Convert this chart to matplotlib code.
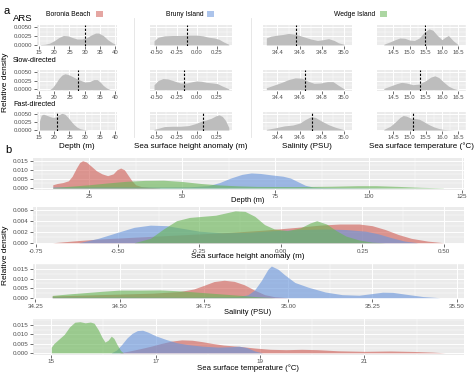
import matplotlib
matplotlib.use("Agg")
import matplotlib.pyplot as plt
from matplotlib.patches import Rectangle
from matplotlib.lines import Line2D

plt.rcParams['font.family'] = ['Liberation Sans', 'DejaVu Sans']

# ---------------- data: panel a (behaviour-specific densities) ----------------
depth_ars_x = [15.5, 17, 18.5, 20, 21.5, 23, 24.5, 26, 27.5, 29, 30.5, 32, 33.5, 34.5, 36, 37.5, 39, 39.8]
depth_ars_y = [0.0001, 0.0002, 0.0005, 0.0012, 0.0021, 0.0027, 0.0026, 0.0021, 0.0017, 0.0017, 0.0020, 0.0028, 0.0034, 0.0034, 0.0027, 0.0015, 0.0006, 0.0003]
depth_slow_x = [18.6, 19.5, 20.5, 21.5, 22.5, 23.5, 24.5, 25.5, 27, 28.5, 30, 31.5, 33, 34, 35, 36, 37, 38.2]
depth_slow_y = [0.0, 0.0006, 0.0018, 0.0032, 0.0042, 0.0046, 0.0044, 0.0040, 0.0033, 0.0027, 0.0022, 0.0023, 0.0029, 0.0029, 0.0022, 0.0012, 0.0005, 0.0]
depth_fast_x = [15.2, 15.8, 16.5, 17.5, 18.5, 19.5, 20.5, 21.5, 22.5, 23.5, 24.5, 25.5, 26.5, 27.5, 28.5, 29.5, 31]
depth_fast_y = [0.0028, 0.0047, 0.0050, 0.0047, 0.0043, 0.0040, 0.0041, 0.0048, 0.0053, 0.0050, 0.0040, 0.0028, 0.0017, 0.0009, 0.0004, 0.0002, 0.0]

ssha_ars_x = [-0.53, -0.48, -0.40, -0.30, -0.20, -0.10, 0.00, 0.08, 0.15, 0.22, 0.28, 0.34, 0.40]
ssha_ars_y = [0.0012, 0.0022, 0.0026, 0.0027, 0.0027, 0.0028, 0.0028, 0.0026, 0.0022, 0.0020, 0.0016, 0.0008, 0.0002]
ssha_slow_x = [-0.53, -0.48, -0.42, -0.36, -0.28, -0.20, -0.12, -0.05, 0.00, 0.06, 0.12, 0.20, 0.26, 0.32, 0.40]
ssha_slow_y = [0.0014, 0.0026, 0.0032, 0.0031, 0.0025, 0.0019, 0.0019, 0.0023, 0.0025, 0.0024, 0.0021, 0.0019, 0.0017, 0.0010, 0.0002]
ssha_fast_x = [-0.53, -0.47, -0.40, -0.30, -0.20, -0.10, -0.02, 0.05, 0.12, 0.18, 0.24, 0.28, 0.32, 0.36, 0.40]
ssha_fast_y = [0.0002, 0.0006, 0.0011, 0.0012, 0.0012, 0.0014, 0.0020, 0.0027, 0.0032, 0.0037, 0.0045, 0.0048, 0.0043, 0.0030, 0.0008]

sal_ars_x = [34.30, 34.34, 34.40, 34.45, 34.50, 34.55, 34.60, 34.65, 34.70, 34.76, 34.81, 34.86, 34.91, 34.95, 35.0]
sal_ars_y = [0.0020, 0.0025, 0.0028, 0.0030, 0.0033, 0.0031, 0.0027, 0.0022, 0.0017, 0.0013, 0.0015, 0.0018, 0.0013, 0.0006, 0.0002]
sal_slow_x = [34.30, 34.37, 34.44, 34.50, 34.56, 34.62, 34.67, 34.73, 34.79, 34.85, 34.90, 34.95, 35.0]
sal_slow_y = [0.0005, 0.0013, 0.0021, 0.0029, 0.0034, 0.0033, 0.0025, 0.0018, 0.0019, 0.0023, 0.0023, 0.0012, 0.0002]
sal_fast_x = [34.30, 34.38, 34.46, 34.54, 34.60, 34.65, 34.70, 34.74, 34.80, 34.86, 34.92, 34.97, 35.0]
sal_fast_y = [0.0002, 0.0007, 0.0013, 0.0016, 0.0022, 0.0033, 0.0042, 0.0040, 0.0028, 0.0017, 0.0009, 0.0004, 0.0001]

sst_ars_x = [14.2, 14.4, 14.55, 14.7, 14.85, 15.0, 15.15, 15.3, 15.45, 15.6, 15.72, 15.85, 16.0, 16.1, 16.2, 16.35, 16.5]
sst_ars_y = [0.0002, 0.0009, 0.0015, 0.0020, 0.0019, 0.0014, 0.0013, 0.0020, 0.0036, 0.0046, 0.0042, 0.0028, 0.0015, 0.0022, 0.0027, 0.0012, 0.0001]
sst_slow_x = [14.2, 14.4, 14.6, 14.75, 14.9, 15.1, 15.3, 15.5, 15.65, 15.78, 15.9, 16.05, 16.2, 16.35, 16.5]
sst_slow_y = [0.0003, 0.0010, 0.0017, 0.0021, 0.0019, 0.0014, 0.0016, 0.0026, 0.0036, 0.0040, 0.0035, 0.0022, 0.0010, 0.0003, 0.0]
sst_fast_x = [14.2, 14.4, 14.55, 14.7, 14.8, 14.9, 15.05, 15.2, 15.3, 15.45, 15.6, 15.75, 15.9, 16.05, 16.2, 16.5]
sst_fast_y = [0.0002, 0.0012, 0.0025, 0.0040, 0.0046, 0.0044, 0.0037, 0.0036, 0.0034, 0.0026, 0.0017, 0.0010, 0.0005, 0.0002, 0.0001, 0.0]

# mean (dashed) lines per behaviour: rows ARS, slow, fast
depth_means = [30.0, 27.8, 20.9]
ssha_means = [-0.125, -0.16, 0.085]
sal_means = [34.57, 34.645, 34.715]
sst_means = [15.47, 15.33, 15.1]

behaviours = ["ARS", "Slow-directed", "Fast-directed"]

# ---------------- data: panel b (site densities) ----------------
sites = ["Boronia Beach", "Bruny Island", "Wedge Island"]
site_colors = ["#D05E56", "#6895DC", "#69B556"]

depth_bb_x = [15.3, 16.5, 18, 19.5, 20.5, 21.5, 22.5, 23.3, 24.3, 25.5, 27, 28.5, 30, 31.5, 32.5, 33.5, 34.5, 35.5, 36.5, 37.5, 39, 41, 44]
depth_bb_y = [0.0018, 0.0025, 0.0030, 0.0040, 0.0065, 0.0105, 0.0140, 0.0150, 0.0143, 0.0122, 0.0095, 0.0078, 0.0068, 0.0078, 0.0100, 0.0110, 0.0100, 0.0070, 0.0040, 0.0018, 0.0008, 0.0004, 0.0001]
depth_bi_x = [15.3, 25, 35, 45, 52, 57, 60, 63, 66, 68.5, 71, 74, 77, 79, 81, 83, 85, 88, 95, 105, 120]
depth_bi_y = [0.0006, 0.0007, 0.0007, 0.0006, 0.0007, 0.0013, 0.0030, 0.0055, 0.0075, 0.0083, 0.0080, 0.0072, 0.0065, 0.0055, 0.0035, 0.0015, 0.0006, 0.0003, 0.0002, 0.0001, 0.0]
depth_wi_x = [15.3, 20, 25, 30, 35, 40, 45, 50, 55, 60, 65, 70, 80, 90, 97, 102, 108, 114, 120]
depth_wi_y = [0.0003, 0.0010, 0.0018, 0.0028, 0.0037, 0.0042, 0.0043, 0.0036, 0.0025, 0.0017, 0.0012, 0.0009, 0.0008, 0.0010, 0.0013, 0.0013, 0.0009, 0.0004, 0.0001]

ssha_bb_x = [-0.70, -0.62, -0.55, -0.45, -0.35, -0.25, -0.15, -0.05, 0.05, 0.12, 0.18, 0.24, 0.28, 0.32, 0.36, 0.40, 0.45, 0.50]
ssha_bb_y = [0.0000, 0.0004, 0.0007, 0.0010, 0.0013, 0.0016, 0.0019, 0.0023, 0.0028, 0.0032, 0.0034, 0.0034, 0.0031, 0.0024, 0.0015, 0.0008, 0.0003, 0.0]
ssha_bi_x = [-0.62, -0.56, -0.50, -0.45, -0.40, -0.35, -0.30, -0.25, -0.18, -0.10, -0.02, 0.06, 0.14, 0.20, 0.26, 0.30, 0.34, 0.38, 0.42]
ssha_bi_y = [0.0000, 0.0008, 0.0019, 0.0028, 0.0032, 0.0031, 0.0026, 0.0021, 0.0018, 0.0019, 0.0022, 0.0024, 0.0025, 0.0024, 0.0021, 0.0016, 0.0009, 0.0003, 0.0]
ssha_wi_x = [-0.45, -0.40, -0.36, -0.32, -0.28, -0.24, -0.20, -0.17, -0.14, -0.11, -0.08, -0.05, -0.02, 0.02, 0.06, 0.09, 0.11, 0.14, 0.17, 0.20, 0.24, 0.28, 0.32]
ssha_wi_y = [0.0000, 0.0008, 0.0025, 0.0040, 0.0046, 0.0048, 0.0050, 0.0054, 0.0058, 0.0057, 0.0048, 0.0033, 0.0025, 0.0022, 0.0027, 0.0036, 0.0040, 0.0034, 0.0022, 0.0012, 0.0005, 0.0001, 0.0]

sal_bb_x = [34.30, 34.40, 34.50, 34.60, 34.68, 34.72, 34.75, 34.78, 34.81, 34.84, 34.87, 34.90, 34.93, 34.96, 35.00]
sal_bb_y = [0.0009, 0.0014, 0.0019, 0.0024, 0.0033, 0.0046, 0.0065, 0.0085, 0.0092, 0.0086, 0.0068, 0.0040, 0.0016, 0.0005, 0.0]
sal_bi_x = [34.30, 34.50, 34.70, 34.85, 34.88, 34.90, 34.92, 34.94, 34.95, 34.97, 34.99, 35.02, 35.06, 35.11, 35.16, 35.21, 35.25, 35.28, 35.31, 35.35, 35.40, 35.45]
sal_bi_y = [0.0004, 0.0004, 0.0003, 0.0006, 0.0015, 0.0040, 0.0090, 0.0150, 0.0167, 0.0150, 0.0120, 0.0080, 0.0055, 0.0030, 0.0016, 0.0013, 0.0022, 0.0029, 0.0028, 0.0018, 0.0006, 0.0]
sal_wi_x = [34.30, 34.35, 34.40, 34.45, 34.50, 34.56, 34.62, 34.68, 34.74, 34.80, 34.86, 34.91, 34.96]
sal_wi_y = [0.0012, 0.0020, 0.0027, 0.0034, 0.0040, 0.0040, 0.0041, 0.0036, 0.0028, 0.0020, 0.0012, 0.0005, 0.0]

sst_bb_x = [16.3, 16.5, 16.7, 16.9, 17.1, 17.3, 17.5, 17.7, 17.9, 18.1, 18.3, 18.6, 18.9, 19.2, 19.5, 19.8, 20.1, 20.5, 21.0, 21.5, 22.0, 22.3, 22.55]
sst_bb_y = [0.0000, 0.0010, 0.0022, 0.0035, 0.0050, 0.0063, 0.0070, 0.0068, 0.0060, 0.0050, 0.0042, 0.0035, 0.0026, 0.0019, 0.0017, 0.0019, 0.0017, 0.0011, 0.0008, 0.0010, 0.0007, 0.0004, 0.0]
sst_bi_x = [16.15, 16.25, 16.35, 16.45, 16.55, 16.65, 16.75, 16.85, 17.0, 17.2, 17.4, 17.6, 17.9, 18.2, 18.45, 18.6, 18.75, 18.9, 19.05]
sst_bi_y = [0.0000, 0.0015, 0.0045, 0.0080, 0.0105, 0.0120, 0.0122, 0.0112, 0.0092, 0.0072, 0.0055, 0.0045, 0.0036, 0.0031, 0.0033, 0.0036, 0.0028, 0.0010, 0.0]
sst_wi_x = [15.0, 15.05, 15.15, 15.25, 15.35, 15.45, 15.55, 15.65, 15.75, 15.82, 15.9, 15.97, 16.03, 16.09, 16.15, 16.2, 16.26, 16.33, 16.38]
sst_wi_y = [0.0030, 0.0050, 0.0075, 0.0100, 0.0140, 0.0165, 0.0168, 0.0162, 0.0166, 0.0160, 0.0125, 0.0085, 0.0058, 0.0068, 0.0090, 0.0078, 0.0045, 0.0012, 0.0]

# tick labels
depth_ticks_a = [15, 20, 25, 30, 35, 40]
ssha_ticks_a = [-0.50, -0.25, 0.00, 0.25]
sal_ticks_a = [34.4, 34.6, 34.8, 35.0]
sst_ticks_a = [14.5, 15.0, 15.5, 16.0, 16.5]
dens_ticks_a = [0.0, 0.0025, 0.0050]

depth_ticks_b = [25, 50, 75, 100, 125]
ssha_ticks_b = [-0.75, -0.50, -0.25, 0.00, 0.25, 0.50]
sal_ticks_b = [34.25, 34.50, 34.75, 35.00, 35.25, 35.50]
sst_ticks_b = [15, 17, 19, 21]

# ---------------- figure ----------------
W, H = 474, 374
fig = plt.figure(figsize=(W / 100, H / 100), dpi=100)
fig.patch.set_facecolor("white")
TXT = "#4D4D4D"
BG = "#EBEBEB"


def add_ax(x0, y0, x1, y1):
    return fig.add_axes([x0 / W, 1 - y1 / H, (x1 - x0) / W, (y1 - y0) / H])


def ftext(x, y, s, **kw):
    fig.text(x / W, 1 - y / H, s, **kw)


def style(ax, xticks, xfmt, yticks, yfmt, show_y, xlim, ylim, fs=4.5):
    ax.set_facecolor(BG)
    for s in ax.spines.values():
        s.set_visible(False)
    ax.set_xlim(*xlim)
    ax.set_ylim(*ylim)
    ax.set_xticks(xticks)
    ax.set_xticklabels([xfmt.format(v) for v in xticks])
    step = xticks[1] - xticks[0]
    xminor = [xticks[0] - step / 2] + [v + step / 2 for v in xticks]
    ax.set_xticks([m for m in xminor if xlim[0] < m < xlim[1]], minor=True)
    ax.set_yticks(yticks)
    ystep = yticks[1] - yticks[0]
    ax.set_yticks([v + ystep / 2 for v in yticks if v + ystep / 2 < ylim[1]], minor=True)
    if show_y:
        ax.set_yticklabels([yfmt.format(v) for v in yticks])
    else:
        ax.set_yticklabels([])
    ax.grid(which="major", color="white", linewidth=0.7)
    ax.grid(which="minor", color="white", linewidth=0.35)
    ax.set_axisbelow(True)
    ax.tick_params(which="major", labelsize=fs, colors="#333333", labelcolor=TXT,
                   length=2, width=0.5, pad=1.2)
    ax.tick_params(which="minor", length=0)
    if not show_y:
        ax.tick_params(axis="y", length=0)


# ---------------- panel a ----------------
col_x = [(36.7, 117), (150, 232), (263, 351.5), (377, 466.5)]
row_y = [(25, 46), (70, 90.5), (112, 131)]
ylim_a = (-0.0003, 0.0057)

panel_a = [
    (depth_ars_x, depth_ars_y, depth_slow_x, depth_slow_y, depth_fast_x, depth_fast_y),
    (ssha_ars_x, ssha_ars_y, ssha_slow_x, ssha_slow_y, ssha_fast_x, ssha_fast_y),
    (sal_ars_x, sal_ars_y, sal_slow_x, sal_slow_y, sal_fast_x, sal_fast_y),
    (sst_ars_x, sst_ars_y, sst_slow_x, sst_slow_y, sst_fast_x, sst_fast_y),
]
means_a = [depth_means, ssha_means, sal_means, sst_means]
ticks_a = [depth_ticks_a, ssha_ticks_a, sal_ticks_a, sst_ticks_a]
fmts_a = ["{:g}", "{:.2f}", "{:.1f}", "{:.1f}"]
xlims_a = [(14.3, 40.5), (-0.58, 0.44), (34.27, 35.067), (13.99, 16.76)]
xlabels_a = ["Depth (m)", "Sea surface height anomaly (m)", "Salinity (PSU)",
             "Sea surface temperature (°C)"]

for c in range(4):
    for r in range(3):
        ax = add_ax(col_x[c][0], row_y[r][0], col_x[c][1], row_y[r][1])
        xs = panel_a[c][2 * r]
        ys = panel_a[c][2 * r + 1]
        ax.fill_between(xs, 0, ys, color="#BDBDBD", linewidth=0)
        ax.axvline(means_a[c][r], color="black", linestyle=(0, (2, 1.5)), linewidth=0.8)
        style(ax, ticks_a[c], fmts_a[c], dens_ticks_a, "{:.4f}", c == 0, xlims_a[c], ylim_a, fs=4.3)
    ftext((col_x[c][0] + col_x[c][1]) / 2, 146, xlabels_a[c], ha="center", va="center",
          fontsize=5.8, color="black")

for r, name in enumerate(behaviours):
    ftext(13, [18.5, 61, 104][r], name, ha="left", va="center",
          fontsize=6.8 if r == 0 else 5.2, color="black")

# separators between column groups
for xs in [133.5, 251]:
    fig.add_artist(Line2D([xs / W, xs / W], [1 - 18 / H, 1 - 137 / H], color="#E3E3E3", linewidth=0.6))

# legend
leg_pos = [(46.5, 96), (166.5, 207), (334, 380)]
for (tx, sx), name, col in zip(leg_pos, sites, site_colors):
    ftext(tx, 14, name, ha="left", va="center", fontsize=4.9, color="black")
    fig.add_artist(Rectangle((sx / W, 1 - 17 / H), 6.5 / W, 6 / H, transform=fig.transFigure,
                             facecolor=col, alpha=0.55, edgecolor="none"))

ftext(7, 11, "a", ha="center", va="center", fontsize=8, color="black")
ftext(8, 150, "b", ha="center", va="center", fontsize=8, color="black")
ftext(6, 82, "Relative density", rotation=90, ha="center", va="center", fontsize=6, color="black")
ftext(6, 255, "Relative density", rotation=90, ha="center", va="center", fontsize=6, color="black")

# ---------------- panel b ----------------
panel_b = [
    ([depth_bb_x, depth_bi_x, depth_wi_x], [depth_bb_y, depth_bi_y, depth_wi_y]),
    ([ssha_bb_x, ssha_bi_x, ssha_wi_x], [ssha_bb_y, ssha_bi_y, ssha_wi_y]),
    ([sal_bb_x, sal_bi_x, sal_wi_x], [sal_bb_y, sal_bi_y, sal_wi_y]),
    ([sst_bb_x, sst_bi_x, sst_wi_x], [sst_bb_y, sst_bi_y, sst_wi_y]),
]
rows_b = [(158, 189.5), (207.3, 244.5), (264.3, 299.4), (319, 354.5)]
xticks_b = [depth_ticks_b, ssha_ticks_b, sal_ticks_b, sst_ticks_b]
xfmts_b = ["{:g}", "{:.2f}", "{:.2f}", "{:g}"]
xlims_b = [(10.0, 125.4), (-0.76, 0.56), (34.243, 35.52), (14.65, 22.9)]
yticks_b = [[0, 0.005, 0.010, 0.015], [0, 0.002, 0.004, 0.006],
            [0, 0.005, 0.010, 0.015], [0, 0.005, 0.010, 0.015]]
ylims_b = [(-0.0008, 0.0165), (-0.00032, 0.00644), (-0.0009, 0.0176), (-0.0009, 0.01825)]
xlabels_b = ["Depth (m)", "Sea surface height anomaly (m)", "Salinity (PSU)",
             "Sea surface temperature (°C)"]
xlabel_y = [200, 257, 312, 368.5]
xlabel_fs = [5.4, 5.8, 5.4, 5.6]

for i in range(4):
    ax = add_ax(33, rows_b[i][0], 463.5, rows_b[i][1])
    xs_list, ys_list = panel_b[i]
    for xs, ys, col in zip(xs_list, ys_list, site_colors):
        ax.fill_between(xs, 0, ys, color=col, alpha=0.62, linewidth=0)
    style(ax, xticks_b[i], xfmts_b[i], yticks_b[i], "{:.3f}", True, xlims_b[i], ylims_b[i], fs=4.5)
    ftext(248, xlabel_y[i], xlabels_b[i], ha="center", va="center", fontsize=xlabel_fs[i],
          color="black")

fig.savefig("out.png", dpi=100)
